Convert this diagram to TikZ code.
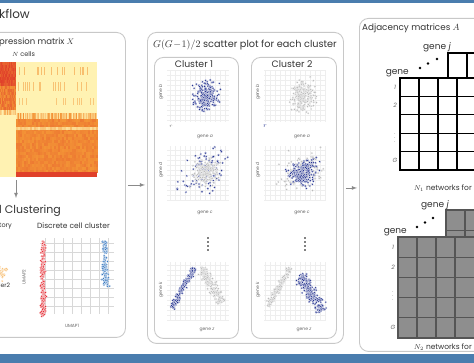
\documentclass[tikz,border=0pt]{standalone}
\usepackage{fontspec}
\usetikzlibrary{positioning}
\setmainfont{Poppins}
\definecolor{BarBlue}{HTML}{4A7DAE}
\definecolor{PanelGrey}{HTML}{C8C8C8}
\definecolor{FlowGrey}{HTML}{8A8A8A}
\definecolor{TxtDark}{HTML}{333333}
\definecolor{TxtGrey}{HTML}{666666}
\definecolor{HMyellow}{HTML}{FFF2B2}
\definecolor{HMorange}{HTML}{F39436}
\definecolor{HMred}{HTML}{E0402A}
\definecolor{PtBlue}{HTML}{1C2B8C}
\definecolor{PtGrey}{HTML}{B6B6B6}
\definecolor{GridGrey}{HTML}{EEEEEE}
\definecolor{UMred}{HTML}{E5232B}
\definecolor{UMblue}{HTML}{2E72BE}
\definecolor{MatGrey}{HTML}{8E8E8E}
\definecolor{MatLine}{HTML}{555555}

\newcommand{\scatblob}[8]{%
  \foreach \k in {1,...,#7}{%
    \pgfmathsetmacro{\ta}{rnd+rnd+rnd-1.5}%
    \pgfmathsetmacro{\tb}{rnd+rnd+rnd-1.5}%
    \filldraw[fill=#8, draw=white, line width=0.15pt]
      ({#1+\ta*#3+\tb*#5},{#2+\ta*#4+\tb*#6}) circle (1.1pt);
  }}
\newcommand{\scatline}[8]{%
  \foreach \k in {1,...,#7}{%
    \pgfmathsetmacro{\ta}{2*rnd-1}%
    \pgfmathsetmacro{\tb}{rnd+rnd+rnd-1.5}%
    \filldraw[fill=#8, draw=white, line width=0.15pt]
      ({#1+\ta*#3+\tb*#5},{#2+\ta*#4+\tb*#6}) circle (1.1pt);
  }}

\begin{document}
\begin{tikzpicture}[x=1pt,y=-1pt,
  panel/.style={draw=PanelGrey, line width=0.9pt, rounded corners=9pt, inner sep=0pt, anchor=north west},
  flow/.style={->, >=latex, draw=FlowGrey, line width=0.8pt},
  lbl/.style={inner sep=0pt, text=TxtDark},
  axl/.style={inner sep=0pt, text=TxtGrey, font=\fontsize{4.5}{5}\selectfont},
  cell/.style={line width=1.1pt}]
  \useasboundingbox (0,0) rectangle (474,363);
  \clip (0,0) rectangle (474,363);
  \pgfmathsetseed{12}

  \fill[BarBlue] (0,0) rectangle (474,3.5);
  \fill[BarBlue] (0,354) rectangle (474,363);
  \node[lbl, anchor=west, font=\fontsize{12}{13}\selectfont] (ttl) at (-1,14) {kflow};

  % panels
  \node[panel, minimum width=145, minimum height=305] (p1) at (-20,32) {};
  \node[panel, minimum width=196, minimum height=311] (p2) at (147,32) {};
  \node[panel, minimum width=84, minimum height=281] (c1) at (154,57) {};
  \node[panel, minimum width=85, minimum height=281] (c2) at (251,57) {};
  \node[panel, minimum width=140, minimum height=333] (p3) at (359,18) {};

  \draw[flow] ([xshift=2pt]p1.east) -- ([xshift=-2pt]p1.east -| p2.west);
  \draw[flow] ([xshift=2pt]p2.east) -- ([xshift=-2pt]p2.east -| p3.west);

  % expression matrix
  \node[lbl, anchor=west, font=\fontsize{8.5}{9}\selectfont] (hmt) at (-1,42) {pression matrix $X$};
  \node[lbl, anchor=west, font=\fontsize{6.5}{7}\selectfont] (nc) at (12,54) {$N$ cells};
  \node[anchor=north west, minimum width=97, minimum height=115, inner sep=0pt] (hm) at (0,62) {};
  \fill[HMyellow] (0,62) rectangle (97,177);
  \foreach \x in {0,...,15}{
    \foreach \y in {62,65,...,83}{
      \pgfmathsetmacro{\r}{55+rnd*45}
      \fill[HMred!\r!HMorange] (\x,\y) rectangle +(1,3);
    }
    \foreach \y in {86,89,...,107}{
      \pgfmathsetmacro{\r}{rnd*55}
      \fill[HMred!\r!HMorange] (\x,\y) rectangle +(1,3);
    }
    \pgfmathsetmacro{\r}{rnd*90}
    \fill[HMorange!\r!HMyellow] (\x,110) rectangle +(1,5);
  }
  \foreach \x in {17,...,96}{
    \pgfmathsetmacro{\oa}{rnd>0.8?0.55:0}
    \pgfmathsetmacro{\ob}{rnd>0.82?0.5:0}
    \pgfmathsetmacro{\oc}{rnd>0.88?0.45:0}
    \fill[HMorange, opacity=\oa] (\x,67) rectangle +(0.8,8);
    \fill[HMorange, opacity=\ob] (\x,82) rectangle +(0.8,9);
    \fill[HMorange, opacity=\oc] (\x,98) rectangle +(0.8,7);
  }
  \foreach \x in {16,...,96}{
    \pgfmathsetmacro{\r}{rnd*100}
    \fill[HMorange!\r!HMyellow] (\x,113) rectangle +(1,6);
  }
  \foreach \x in {16,18,...,96}{
    \foreach \y in {119,122,...,170}{
      \pgfmathsetmacro{\r}{rnd*30}
      \fill[HMred!\r!HMorange] (\x,\y) rectangle +(2,3);
    }
    \pgfmathsetmacro{\r}{40+rnd*40}
    \fill[HMyellow!\r!HMorange] (\x,127) rectangle +(2,3);
  }
  \fill[HMred] (16,172) rectangle (97,177);
  \coordinate (clu) at (16,198);
  \draw[flow] ([xshift=16pt,yshift=-3pt]hm.south west) -- (clu);

  % clustering
  \node[lbl, anchor=west, font=\fontsize{11}{12}\selectfont] (clt) at (-1,211) {l Clustering};
  \node[lbl, anchor=west, font=\fontsize{6.5}{7}\selectfont] (trj) at (-1,226) {tory};
  \node[lbl, font=\fontsize{7.5}{8}\selectfont] (dcc) at (73.5,226) {Discrete cell cluster};
  \scatblob{2}{273}{5}{0}{0}{7}{30}{HMorange!60!HMyellow}
  \node[lbl, anchor=west, font=\fontsize{6}{7}\selectfont] (psl) at (-1,285) {ler2};
  \draw[GridGrey!80!gray, step=9pt, line width=0.4pt] (40,238) grid (114,314);
  \scatline{43}{279}{0}{38}{2.5}{0}{230}{UMred}
  \scatline{105}{264}{1}{23}{3}{0}{130}{UMblue}
  \node[axl, rotate=90] (um2) at (24,277) {UMAP2};
  \node[axl] (um1) at (72,326) {UMAP1};

  % scatter plots
  \node[lbl, anchor=west, font=\fontsize{9.7}{10}\selectfont] (sct) at (153,45) {$G(G\!-\!1)/2$ scatter plot for each cluster};
  \node[lbl, font=\fontsize{9.3}{10}\selectfont] (cl1) at (194,64) {Cluster 1};
  \node[lbl, font=\fontsize{9.3}{10}\selectfont] (cl2) at (292,64) {Cluster 2};
  \foreach \dx in {0,97}{
    \draw[GridGrey, step=5pt, line width=0.3pt] (167+\dx,70) grid (229+\dx,122);
    \draw[GridGrey, step=5pt, line width=0.3pt] (167+\dx,146) grid (229+\dx,200);
    \draw[GridGrey, step=5pt, line width=0.3pt] (167+\dx,262) grid (229+\dx,320);
    \foreach \y in {238,242,246,250}
      \fill[black] (208+\dx,\y) circle (0.9pt);
  }
  \scatblob{206}{96}{11}{0}{0}{14}{230}{PtBlue}
  \scatblob{303}{96}{11}{0}{0}{14}{230}{PtGrey}
  \scatblob{205}{172}{20}{-5}{0}{18}{130}{PtBlue}
  \scatblob{206}{172}{12}{-3}{0}{11}{170}{PtGrey}
  \scatblob{302}{172}{20}{-5}{0}{18}{120}{PtGrey}
  \scatblob{303}{173}{13}{-3}{0}{12}{220}{PtBlue}
  \scatline{183}{288}{11}{-20}{2.5}{1.3}{170}{PtBlue}
  \scatline{211}{285}{11}{17.5}{4}{-2.5}{200}{PtGrey}
  \scatline{279}{287}{11}{-19}{2.5}{1.3}{160}{PtGrey}
  \scatline{311}{293}{11}{18}{5}{-3}{240}{PtBlue}
  \node[axl, text=TxtGrey] (ra) at (171,126) {$r$};
  \node[axl, text=PtBlue, font=\fontsize{6}{6}\selectfont\bfseries] (rb) at (265,126) {$r$};
  \foreach \dx/\nm in {0/a,97/b}{
    \node[axl, rotate=90] (gb\nm) at (161+\dx,92) {gene \textit{b}};
    \node[axl] (ga\nm) at (205+\dx,137) {gene \textit{a}};
    \node[axl, rotate=90] (gd\nm) at (161+\dx,170) {gene \textit{d}};
    \node[axl] (gc\nm) at (205+\dx,213) {gene \textit{c}};
    \node[axl, rotate=90] (gk\nm) at (161+\dx,290) {gene \textit{k}};
    \node[axl] (gz\nm) at (207+\dx,330) {gene \textit{z}};
  }

  % adjacency matrices
  \node[lbl, anchor=west, font=\fontsize{8.8}{9}\selectfont] (adj) at (362,28) {Adjacency matrices $A$};
  \filldraw[cell, fill=white] (448,53) rectangle (524,145);
  \foreach \x in {467,486,505} \draw[cell] (\x,53) -- (\x,145);
  \filldraw[cell, fill=white] (400,78) rectangle (476,170);
  \foreach \x in {419,438,457} \draw[cell] (\x,78) -- (\x,170);
  \foreach \y in {96.4,114.8,133.2,151.6} \draw[cell] (400,\y) -- (476,\y);
  \foreach \x/\y in {420/68,428/63.5,437/59} \fill (\x,\y) circle (1.3pt);
  \node[lbl, font=\fontsize{9}{10}\selectfont] (gj1) at (437,47) {gene \textit{j}};
  \node[lbl, anchor=east, font=\fontsize{9}{10}\selectfont] (gi1) at (409,73) {gene};
  \foreach \y/\lab in {87/1,105.6/2,160.8/G}
    \node[axl, font=\fontsize{6}{7}\selectfont\itshape] at (395,\y) {\lab};
  \node[axl, font=\fontsize{5}{6}\selectfont] (vd1) at (395,135) {$\vdots$};
  \coordinate (nw1p) at (472,188);
  \node[lbl, font=\fontsize{7.5}{8}\selectfont, left=0pt of nw1p] (nw1) {$N_1$ networks for};

  \filldraw[cell, draw=MatLine, fill=MatGrey] (446,210) rectangle (526,311);
  \foreach \x in {465,484,503} \draw[cell, draw=MatLine] (\x,210) -- (\x,311);
  \draw[cell, draw=MatLine] (446,230.2) -- (526,230.2);
  \filldraw[cell, draw=MatLine, fill=MatGrey] (398,237) rectangle (478,338);
  \foreach \x in {417,436,455} \draw[cell, draw=MatLine] (\x,237) -- (\x,338);
  \foreach \y in {257.2,277.4,297.6,317.8} \draw[cell, draw=MatLine] (398,\y) -- (478,\y);
  \foreach \x/\y in {417/227,425/222.5,433/218} \fill (\x,\y) circle (1.3pt);
  \node[lbl, font=\fontsize{9}{10}\selectfont] (gj2) at (435,205) {gene \textit{j}};
  \node[lbl, anchor=east, font=\fontsize{9}{10}\selectfont] (gi2) at (407,232) {gene};
  \foreach \y/\lab in {247/1,267/2,327/G}
    \node[axl, font=\fontsize{6}{7}\selectfont\itshape] at (393,\y) {\lab};
  \node[axl, font=\fontsize{5}{6}\selectfont] (vd2) at (393,293) {$\vdots$};
  \coordinate (nw2p) at (472,347);
  \node[lbl, font=\fontsize{7.5}{8}\selectfont, left=0pt of nw2p] (nw2) {$N_2$ networks for};
\end{tikzpicture}
\end{document}
